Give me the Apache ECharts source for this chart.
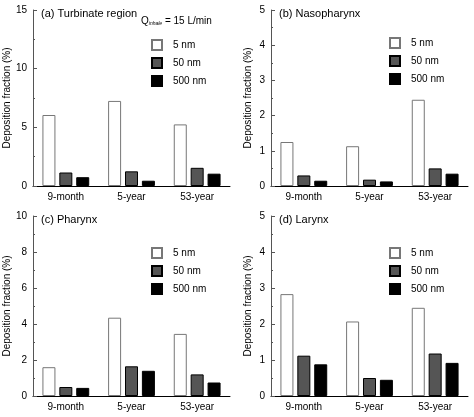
<!DOCTYPE html>
<html><head><meta charset="utf-8">
<script src="https://cdn.jsdelivr.net/npm/echarts@6/dist/echarts.min.js"></script>
<style>html,body{margin:0;background:#fff}#c{width:474px;height:417px}</style>
</head><body><div id="c"></div>
<script>
var ages = ['9-month', '5-year', '53-year'];
var sizes = ['5 nm', '50 nm', '500 nm'];
var titles = ['(a) Turbinate region', '(b) Nasopharynx', '(c) Pharynx', '(d) Larynx'];
var yMax = [15, 5, 10, 5];
var yStep = [5, 1, 2, 1];
// deposition fraction (%) per panel, per particle size
var turbinate = [[6.05, 7.25, 5.25], [1.15, 1.25, 1.55], [0.75, 0.45, 1.05]];
var nasopharynx = [[1.25, 1.13, 2.45], [0.3, 0.18, 0.5], [0.15, 0.13, 0.35]];
var pharynx = [[1.6, 4.35, 3.45], [0.5, 1.65, 1.2], [0.45, 1.4, 0.75]];
var larynx = [[2.83, 2.07, 2.45], [1.12, 0.5, 1.18], [0.88, 0.45, 0.92]];
var panels = [turbinate, nasopharynx, pharynx, larynx];

var font = 'Arial, "Liberation Sans", sans-serif';
var fills = ['#fff', '#555', '#000'];
var grids = [
  {left: 33, top: 10, width: 197, height: 176},
  {left: 271, top: 10, width: 197, height: 176},
  {left: 33, top: 216, width: 197, height: 180},
  {left: 271, top: 216, width: 197, height: 180}
];

var option = {
  animation: false,
  textStyle: {fontFamily: font},
  grid: grids,
  xAxis: [], yAxis: [], series: [], legend: [], graphic: []
};

grids.forEach(function (g, i) {
  option.xAxis.push({
    type: 'category', gridIndex: i, data: ages,
    axisLine: {lineStyle: {color: '#000'}},
    axisTick: {show: false},
    axisLabel: {color: '#000', fontSize: 10, margin: 6}
  });
  option.yAxis.push({
    type: 'value', gridIndex: i, min: 0, max: yMax[i], interval: yStep[i],
    name: 'Deposition fraction (%)', nameLocation: 'middle', nameGap: 18,
    nameTextStyle: {color: '#000', fontSize: 10},
    axisLine: {show: true, lineStyle: {color: '#555'}},
    axisTick: {show: true, inside: true, length: 4, lineStyle: {color: '#555'}},
    minorTick: {show: true, splitNumber: 2, length: 2, lineStyle: {color: '#555'}},
    splitLine: {show: false},
    axisLabel: {color: '#000', fontSize: 10, margin: 6}
  });
  sizes.forEach(function (s, k) {
    option.series.push({
      type: 'bar', name: s, xAxisIndex: i, yAxisIndex: i,
      data: panels[i][k], barWidth: 13, barGap: '30%',
      itemStyle: {color: fills[k], borderColor: k === 0 ? '#777' : '#000', borderWidth: 1}
    });
  });
  var legTop = i === 0 ? g.top + 24 : (i === 1 ? g.top + 22 : g.top + 26);
  option.legend.push({
    data: sizes, orient: 'vertical', left: g.left + 113, top: legTop,
    icon: 'rect', itemWidth: 10, itemHeight: 10, itemGap: 6,
    textStyle: {color: '#000', fontSize: 10, padding: [0, 0, 0, 6]}
  });
  option.graphic.push({
    type: 'text', left: g.left + 8, top: g.top - 2,
    style: {text: titles[i], fill: '#000', fontSize: 11, fontFamily: font}
  });
});
option.graphic.push({
  type: 'text', left: 141, top: 16,
  style: {
    text: '{a|Q}{s|inhale}{a| = 15 L/min}', fontFamily: font,
    rich: {a: {fontSize: 10, fill: '#000', fontFamily: font}, s: {fontSize: 5, fill: '#000', verticalAlign: 'bottom', padding: [6, 0, 0, 0], fontStyle: 'italic', fontFamily: font}}
  }
});

echarts.init(document.getElementById('c')).setOption(option);
</script></body></html>
